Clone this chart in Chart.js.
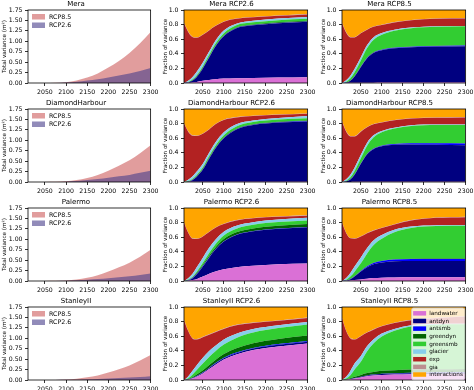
<!DOCTYPE html>
<html>
<head>
<meta charset="utf-8">
<script src="https://cdn.jsdelivr.net/npm/chart.js@4.4.0/dist/chart.umd.min.js"></script>
<style>
  html, body { margin: 0; padding: 0; background: #fff; width: 474px; height: 390px; overflow: hidden; }
  canvas { position: absolute; }
</style>
</head>
<body>
<script>
// ---- data ----
const sites = ['Mera', 'DiamondHarbour', 'Palermo', 'StanleyII'];
const xTicks = [2050, 2100, 2150, 2200, 2250, 2300];
const varTicks = [0, 0.25, 0.5, 0.75, 1.0, 1.25, 1.5, 1.75];
const fracTicks = [0, 0.2, 0.4, 0.6, 0.8, 1.0];

// total variance (m^2), left column
const varYears = [2020, 2050, 2075, 2100, 2125, 2150, 2175, 2200, 2225, 2250, 2275, 2300];
const meraVar85 = [0, 0, 0.005, 0.02, 0.06, 0.13, 0.23, 0.37, 0.53, 0.72, 0.95, 1.22];
const meraVar26 = [0, 0, 0.002, 0.01, 0.03, 0.06, 0.09, 0.13, 0.18, 0.23, 0.29, 0.36];
const diamondVar85 = [0, 0, 0.004, 0.015, 0.045, 0.095, 0.17, 0.27, 0.39, 0.52, 0.69, 0.88];
const diamondVar26 = [0, 0, 0.002, 0.008, 0.022, 0.045, 0.07, 0.1, 0.135, 0.17, 0.22, 0.27];
const palermoVar85 = [0, 0, 0.003, 0.012, 0.037, 0.08, 0.14, 0.23, 0.33, 0.44, 0.58, 0.75];
const palermoVar26 = [0, 0, 0.001, 0.005, 0.015, 0.03, 0.045, 0.065, 0.09, 0.115, 0.145, 0.18];
const stanleyVar85 = [0, 0, 0.002, 0.01, 0.03, 0.064, 0.11, 0.18, 0.26, 0.35, 0.47, 0.6];
const stanleyVar26 = [0, 0, 0.001, 0.003, 0.008, 0.015, 0.023, 0.033, 0.045, 0.058, 0.072, 0.09];

// fraction of variance per component
const fracYears = [2005, 2015, 2025, 2035, 2050, 2065, 2080, 2100, 2130, 2170, 2230, 2300];
const components = ['landwater', 'antdyn', 'antsmb', 'greendyn', 'greensmb', 'glacier', 'exp', 'gia', 'interactions'];
const compColors = ['#da70d6', '#000080', '#0000ff', '#006400', '#32cd32', '#87ceeb', '#b22222', '#bc8f8f', '#ffa500'];

const meraRcp26 = {
  landwater: [0, .002, .008, .015, .03, .04, .05, .06, .065, .07, .076, .08],
  antdyn: [0, .003, .022, .065, .17, .31, .45, .58, .685, .72, .744, .76],
  antsmb: [0, .001, .002, .002, .003, .003, .003, .003, .003, .003, .003, .003],
  greendyn: [0, .003, .005, .007, .008, .008, .008, .008, .008, .008, .008, .01],
  greensmb: [0, .005, .01, .015, .02, .025, .027, .03, .03, .03, .03, .027],
  glacier: [0, .016, .033, .046, .049, .044, .042, .039, .022, .022, .022, .025],
  exp: [.82, .67, .55, .47, .38, .29, .2, .12, .067, .047, .037, .035],
  gia: [.004, .004, .004, .004, .004, .004, .004, .004, .004, .004, .004, .004],
  interactions: [.176, .296, .366, .376, .336, .276, .216, .156, .116, .096, .076, .056]
};
const meraRcp85 = {
  landwater: [0, .001, .002, .003, .004, .005, .005, .006, .006, .006, .006, .006],
  antdyn: [0, .004, .028, .087, .216, .335, .405, .444, .469, .484, .494, .499],
  antsmb: [0, .001, .002, .003, .004, .005, .006, .006, .007, .007, .007, .007],
  greendyn: [0, .001, .002, .003, .004, .004, .004, .004, .004, .004, .004, .004],
  greensmb: [0, .01, .03, .05, .08, .13, .17, .2, .23, .25, .258, .26],
  glacier: [0, .02, .035, .045, .045, .04, .035, .025, .015, .01, .008, .005],
  exp: [.82, .653, .526, .434, .327, .211, .145, .11, .099, .099, .103, .104],
  gia: [.004, .004, .004, .004, .004, .004, .004, .004, .004, .004, .004, .004],
  interactions: [.176, .306, .371, .371, .316, .266, .226, .201, .166, .136, .116, .111]
};
const diamondRcp26 = {
  landwater: [0, .001, .002, .002, .003, .003, .003, .003, .003, .003, .003, .003],
  antdyn: [0, .003, .023, .068, .167, .317, .457, .597, .717, .777, .812, .827],
  antsmb: [0, .001, .002, .002, .003, .003, .003, .003, .003, .003, .003, .004],
  greendyn: [0, .003, .005, .007, .008, .008, .008, .008, .008, .008, .008, .01],
  greensmb: [0, .005, .01, .015, .02, .025, .027, .03, .03, .03, .03, .03],
  glacier: [0, .017, .033, .046, .049, .044, .042, .039, .029, .022, .022, .031],
  exp: [.8, .66, .56, .49, .41, .32, .25, .17, .095, .062, .042, .03],
  gia: [.004, .004, .004, .004, .004, .004, .004, .004, .004, .004, .004, .004],
  interactions: [.196, .306, .361, .366, .336, .276, .206, .146, .111, .091, .076, .061]
};
const diamondRcp85 = {
  landwater: [0, .001, .001, .002, .002, .003, .003, .003, .003, .003, .003, .003],
  antdyn: [0, .005, .034, .098, .248, .377, .447, .487, .507, .512, .507, .5],
  antsmb: [0, .001, .002, .003, .004, .005, .006, .007, .009, .015, .022, .025],
  greendyn: [0, .003, .003, .003, .003, .003, .003, .003, .003, .003, .003, .003],
  greensmb: [0, .008, .025, .045, .07, .11, .15, .18, .21, .235, .245, .25],
  glacier: [0, .02, .035, .045, .045, .04, .03, .02, .012, .008, .006, .005],
  exp: [.83, .652, .525, .429, .318, .212, .151, .115, .101, .094, .094, .099],
  gia: [.004, .004, .004, .004, .004, .004, .004, .004, .004, .004, .004, .004],
  interactions: [.166, .306, .371, .371, .306, .246, .206, .181, .151, .126, .116, .111]
};
const palermoRcp26 = {
  landwater: [0, .003, .012, .025, .06, .1, .13, .16, .19, .21, .23, .24],
  antdyn: [0, .003, .023, .065, .14, .22, .3, .38, .44, .47, .485, .495],
  antsmb: [0, .005, .005, .005, .005, .005, .005, .005, .005, .005, .005, .005],
  greendyn: [0, .003, .006, .01, .015, .02, .025, .03, .032, .035, .037, .04],
  greensmb: [0, .005, .01, .02, .03, .04, .045, .05, .05, .05, .05, .05],
  glacier: [0, .02, .04, .06, .07, .07, .06, .05, .04, .035, .035, .035],
  exp: [.8, .621, .484, .39, .29, .215, .165, .105, .073, .055, .038, .03],
  gia: [.004, .004, .004, .004, .004, .004, .004, .004, .004, .004, .004, .004],
  interactions: [.196, .336, .416, .421, .386, .326, .266, .216, .166, .136, .116, .101]
};
const palermoRcp85 = {
  landwater: [0, .002, .006, .012, .022, .032, .04, .045, .048, .05, .05, .05],
  antdyn: [0, .003, .019, .048, .108, .158, .19, .21, .222, .225, .225, .225],
  antsmb: [0, .001, .003, .005, .008, .012, .016, .02, .024, .027, .028, .028],
  greendyn: [0, .001, .002, .003, .004, .004, .004, .004, .004, .004, .004, .004],
  greensmb: [0, .01, .03, .06, .1, .17, .24, .3, .37, .42, .445, .45],
  glacier: [0, .025, .05, .07, .08, .075, .065, .05, .035, .02, .012, .01],
  exp: [.8, .613, .475, .382, .288, .204, .135, .096, .072, .084, .101, .108],
  gia: [.004, .004, .004, .004, .004, .004, .004, .004, .004, .004, .004, .004],
  interactions: [.196, .341, .411, .416, .386, .341, .306, .271, .221, .166, .131, .121]
};
const stanleyRcp26 = {
  landwater: [0, .005, .02, .045, .09, .15, .21, .28, .35, .41, .46, .5],
  antdyn: [0, .001, .004, .007, .01, .013, .015, .017, .018, .02, .022, .023],
  antsmb: [0, .001, .002, .003, .005, .006, .007, .008, .009, .01, .011, .012],
  greendyn: [0, .005, .012, .02, .03, .037, .043, .05, .058, .064, .07, .075],
  greensmb: [0, .012, .035, .06, .09, .11, .12, .13, .14, .145, .148, .15],
  glacier: [0, .025, .05, .065, .08, .08, .075, .07, .06, .05, .04, .035],
  exp: [.82, .621, .447, .355, .28, .224, .185, .145, .115, .081, .059, .055],
  gia: [.006, .006, .006, .006, .006, .006, .006, .006, .006, .006, .006, .006],
  interactions: [.174, .324, .424, .439, .409, .374, .339, .294, .244, .214, .184, .144]
};
const stanleyRcp85 = {
  landwater: [0, .003, .01, .02, .035, .05, .06, .07, .075, .08, .082, .085],
  antdyn: [0, .001, .003, .005, .008, .01, .011, .012, .013, .014, .015, .015],
  antsmb: [0, .001, .001, .002, .002, .003, .003, .004, .004, .005, .005, .005],
  greendyn: [0, .004, .01, .018, .025, .032, .036, .04, .043, .045, .046, .047],
  greensmb: [0, .01, .04, .1, .18, .3, .39, .47, .54, .59, .61, .61],
  glacier: [0, .025, .06, .08, .08, .07, .055, .04, .025, .015, .01, .008],
  exp: [.85, .626, .446, .33, .27, .185, .135, .099, .08, .071, .082, .1],
  gia: [.004, .004, .004, .004, .004, .004, .004, .004, .004, .004, .004, .004],
  interactions: [.146, .326, .426, .441, .396, .346, .306, .261, .216, .176, .146, .126]
};

const totalVar85 = [meraVar85, diamondVar85, palermoVar85, stanleyVar85];
const totalVar26 = [meraVar26, diamondVar26, palermoVar26, stanleyVar26];
const frac26 = [meraRcp26, diamondRcp26, palermoRcp26, stanleyRcp26];
const frac85 = [meraRcp85, diamondRcp85, palermoRcp85, stanleyRcp85];

// ---- layout ----
const colLeft = [28, 184, 342], colWidth = [124, 125, 125], yAxisW = [28, 30, 30];
const rowTop = [10, 109, 208, 307], plotH = 73;
const TOP = 10, BOTTOM = 14, RIGHT = 9;
const FONT = "'DejaVu Sans', sans-serif";

Chart.defaults.font.family = FONT;
Chart.defaults.color = '#000';

const frame = {
  id: 'frame',
  afterDraw(chart) {
    const a = chart.chartArea, c = chart.ctx;
    c.save();
    c.strokeStyle = '#000';
    c.lineWidth = 0.8;
    c.strokeRect(a.left, a.top, a.right - a.left, a.bottom - a.top);
    c.restore();
  }
};

// legend drawn inside the axes, matplotlib style
const boxLegend = {
  id: 'boxLegend',
  afterDraw(chart, args, o) {
    if (!o.order) return;
    const a = chart.chartArea, c = chart.ctx;
    const n = o.order.length;
    const h = o.pad * 2 + o.row * n;
    const x0 = o.right ? a.right - o.dx - o.width : a.left + o.dx;
    const y0 = a.top + o.dy;
    c.save();
    if (o.box) {
      c.fillStyle = 'rgba(255,255,255,0.8)';
      c.strokeStyle = '#cccccc';
      c.lineWidth = 0.8;
      c.beginPath();
      c.roundRect(x0, y0, o.width, h, 2);
      c.fill();
      c.stroke();
    }
    c.font = o.size + 'px ' + FONT;
    c.textBaseline = 'middle';
    o.order.forEach((di, i) => {
      const ds = chart.data.datasets[di];
      const cy = y0 + o.pad + o.row * (i + 0.5);
      c.fillStyle = ds.backgroundColor;
      c.fillRect(x0 + o.pad, cy - o.ph / 2, o.pw, o.ph);
      c.fillStyle = '#000';
      c.fillText(ds.label, x0 + o.pad + o.pw + o.gap, cy + 0.3);
    });
    c.restore();
  }
};

function makeCanvas(left, top, w, h) {
  const cv = document.createElement('canvas');
  cv.width = w; cv.height = h;
  cv.style.left = left + 'px'; cv.style.top = top + 'px';
  cv.style.width = w + 'px'; cv.style.height = h + 'px';
  document.body.appendChild(cv);
  return cv;
}

function baseOptions(col, xMin, yMax, yTicks, yDigits, yTitle, title, legend) {
  return {
    responsive: false,
    animation: false,
    devicePixelRatio: 1,
    layout: { padding: { left: 0, top: 0, right: RIGHT, bottom: 0 } },
    elements: { point: { radius: 0 }, line: { borderWidth: 0, cubicInterpolationMode: 'monotone' } },
    plugins: {
      legend: { display: false },
      tooltip: { enabled: false },
      title: { display: true, text: title, color: '#000', font: { size: 7, weight: 'normal' }, padding: { top: 0, bottom: 1.6 } },
      boxLegend: legend
    },
    scales: {
      x: {
        type: 'linear', min: xMin, max: 2300,
        afterBuildTicks: s => { s.ticks = xTicks.map(v => ({ value: v })); },
        afterFit: s => { s.height = BOTTOM; },
        ticks: { font: { size: 6.2 }, color: '#000', padding: 2.5, maxRotation: 0, autoSkip: false, callback: v => String(v) },
        grid: { drawOnChartArea: false, tickLength: 3, color: '#000', lineWidth: 0.8 },
        border: { display: false }
      },
      y: {
        min: 0, max: yMax, stacked: col > 0,
        afterBuildTicks: s => { s.ticks = yTicks.map(v => ({ value: v })); },
        afterFit: s => { s.width = yAxisW[col]; },
        ticks: { font: { size: 6.2 }, color: '#000', padding: 2.5, autoSkip: false, callback: v => v.toFixed(yDigits) },
        grid: { drawOnChartArea: false, tickLength: 3, color: '#000', lineWidth: 0.8 },
        border: { display: false },
        title: { display: true, text: yTitle, color: '#000', font: { size: 5.6 }, padding: { top: col === 0 ? 1 : 8, bottom: 0 } }
      }
    }
  };
}

function panelCanvas(row, col) {
  return makeCanvas(colLeft[col] - yAxisW[col], rowTop[row] - TOP,
    yAxisW[col] + colWidth[col] + RIGHT, TOP + plotH + BOTTOM);
}

sites.forEach((site, r) => {
  // left column: total variance
  const legend = { order: [0, 1], dx: 4, dy: 2.5, pad: 0, row: 8.5, pw: 13, ph: 5.5, gap: 4, size: 6.3, width: 50, box: false };
  new Chart(panelCanvas(r, 0), {
    type: 'line',
    data: {
      datasets: [
        { label: 'RCP8.5', data: varYears.map((x, k) => ({ x, y: totalVar85[r][k] })), backgroundColor: 'rgba(205,92,92,0.6)', fill: 'origin', order: 2 },
        { label: 'RCP2.6', data: varYears.map((x, k) => ({ x, y: totalVar26[r][k] })), backgroundColor: 'rgba(72,61,139,0.6)', fill: 'origin', order: 1 }
      ]
    },
    options: baseOptions(0, 2010, 1.75, varTicks, 2, 'Total variance (m²)', site, legend),
    plugins: [frame, boxLegend]
  });

  // fraction of variance, RCP2.6 and RCP8.5
  [[frac26[r], 'RCP2.6'], [frac85[r], 'RCP8.5']].forEach(([set, scen], j) => {
    const col = j + 1;
    const datasets = components.map((name, ci) => ({
      label: name,
      data: fracYears.map((x, k) => ({ x, y: set[name][k] })),
      backgroundColor: compColors[ci],
      fill: ci === 0 ? 'origin' : '-1'
    }));
    const legend = (r === 3 && col === 2)
      ? { order: [0, 1, 2, 3, 4, 5, 6, 7, 8], right: true, dx: 1, dy: 1, pad: 1.5, row: 7.65, pw: 13, ph: 4.5, gap: 3, size: 5.7, width: 53, box: true }
      : {};
    new Chart(panelCanvas(r, col), {
      type: 'line',
      data: { datasets },
      options: baseOptions(col, 2005, 1, fracTicks, 1, 'Fraction of variance', site + ' ' + scen, legend),
      plugins: [frame, boxLegend]
    });
  });
});
</script>
</body>
</html>
